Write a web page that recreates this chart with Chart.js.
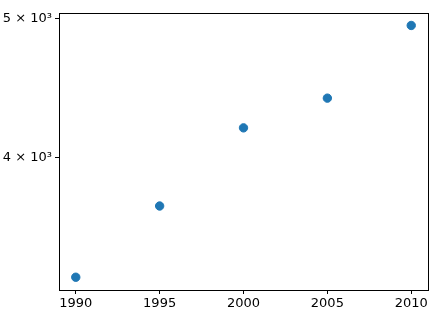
<!DOCTYPE html>
<html>
<head>
<meta charset="utf-8">
<script src="https://cdn.jsdelivr.net/npm/chart.js@4/dist/chart.umd.min.js"></script>
<style>
  html, body { margin: 0; padding: 0; background: #fff; }
  #wrap { width: 437px; height: 317px; }
</style>
</head>
<body>
<div id="wrap"><canvas id="myChart" width="437" height="317"></canvas></div>
<script>
const years = [1990, 1995, 2000, 2005, 2010];
const values = [3300, 3700, 4195, 4400, 4945];
const xTicks = [1990, 1995, 2000, 2005, 2010];
const yTicks = [4000, 5000];

const sup = { "0": "⁰", "1": "¹", "2": "²", "3": "³", "4": "⁴", "5": "⁵" };

// black frame round the plot area, like matplotlib's spines
const frame = {
  id: "frame",
  afterDraw(chart) {
    const a = chart.chartArea;
    const ctx = chart.ctx;
    ctx.save();
    ctx.strokeStyle = "#000";
    ctx.lineWidth = 1;
    ctx.strokeRect(Math.round(a.left) + 0.5, Math.round(a.top) + 0.5,
      Math.round(a.right - a.left), Math.round(a.bottom - a.top));
    ctx.restore();
  }
};

const mychart = document.getElementById("myChart");

new Chart(mychart, {
  type: "scatter",
  data: {
    datasets: [
      {
        data: years.map((y, i) => ({ x: y, y: values[i] })),
        backgroundColor: "#1f77b4",
        borderColor: "#1f77b4",
        pointRadius: 4.2,
        pointHoverRadius: 4.2,
      },
    ],
  },
  options: {
    responsive: false,
    animation: false,
    layout: { padding: { top: 13, right: 9, left: 0, bottom: 0 } },
    plugins: {
      legend: { display: false },
      tooltip: { enabled: false },
    },
    scales: {
      x: {
        type: "linear",
        min: 1989,
        max: 2011,
        afterBuildTicks: (scale) => { scale.ticks = xTicks.map(v => ({ value: v })); },
        afterFit: (scale) => { scale.height = 27; },
        grid: { drawOnChartArea: false, drawTicks: true, tickLength: 4, color: "#000" },
        border: { display: false },
        ticks: {
          color: "#000",
          padding: 2,
          maxRotation: 0,
          font: { family: "DejaVu Sans", size: 13 },
          callback: (v) => String(v),
        },
      },
      y: {
        type: "logarithmic",
        min: 3233,
        max: 5045,
        afterBuildTicks: (scale) => { scale.ticks = yTicks.map(v => ({ value: v })); },
        afterFit: (scale) => { scale.width = 59; },
        grid: { drawOnChartArea: false, drawTicks: true, tickLength: 4, color: "#000" },
        border: { display: false },
        ticks: {
          color: "#000",
          padding: 3,
          font: { family: "DejaVu Sans", size: 13 },
          callback: (v) => {
            const e = Math.floor(Math.log10(v));
            const m = Math.round(v / Math.pow(10, e));
            return m + " × 10" + String(e).split("").map(c => sup[c]).join("");
          },
        },
      },
    },
  },
  plugins: [frame],
});
</script>
</body>
</html>
